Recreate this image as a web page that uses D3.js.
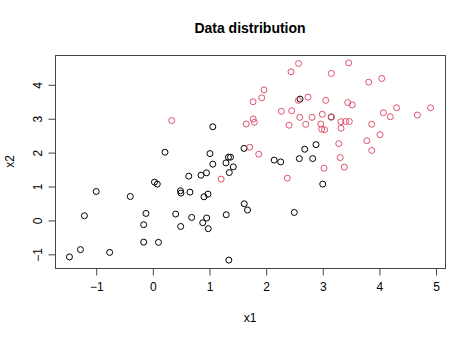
<!DOCTYPE html>
<html><head><meta charset="utf-8">
<script src="https://cdn.jsdelivr.net/npm/d3@7"></script>
<style>body{margin:0;background:#fff;} text{font-family:"Liberation Sans",Arial,sans-serif;}</style>
</head><body><svg id="c" width="474" height="338"></svg>
<script>
const group1X1 = [-1.473,-1.279,-1.208,-1.000,-0.763,-0.399,-0.162,-0.162,-0.122,0.028,0.078,0.099,0.214,0.403,0.487,0.496,0.491,0.634,0.655,0.685,0.850,0.880,0.902,0.947,0.950,0.973,0.978,1.008,1.058,1.058,1.291,1.295,1.341,1.349,1.335,1.371,1.420,1.609,1.613,1.671,2.142,2.257,2.497,2.586,2.598,2.681,2.822,2.881,2.999,3.149];
const group1X2 = [-1.076,-0.862,0.138,0.853,-0.944,0.706,-0.126,-0.641,0.206,1.129,1.071,-0.647,2.012,0.188,0.874,0.806,-0.179,1.306,0.835,0.088,1.335,-0.068,0.697,1.403,0.071,0.776,-0.244,1.971,2.762,1.659,1.697,0.168,-1.171,1.412,1.865,1.865,1.579,2.124,0.491,0.306,1.779,1.726,0.235,1.824,3.579,2.100,1.824,2.235,1.071,3.050];
const group2X1 = [0.332,1.206,1.648,1.710,1.768,1.771,1.791,1.869,1.922,1.962,2.268,2.374,2.404,2.439,2.451,2.572,2.568,2.593,2.699,2.739,2.810,2.964,2.981,2.992,3.031,3.022,3.052,3.151,3.151,3.282,3.308,3.319,3.322,3.380,3.402,3.440,3.458,3.469,3.520,3.778,3.811,3.864,3.864,4.011,4.041,4.069,4.193,4.302,4.670,4.903];
const group2X2 = [2.947,1.218,2.844,2.159,3.500,2.991,2.894,1.953,3.618,3.850,3.218,1.247,2.809,4.382,3.235,4.629,3.541,3.041,2.835,3.638,3.041,2.844,2.691,3.132,2.676,1.541,3.541,4.335,3.050,2.265,1.853,2.912,2.718,1.571,2.918,3.476,4.647,2.918,3.409,2.350,4.079,2.838,2.065,2.529,4.188,3.176,3.059,3.324,3.109,3.324];
const xTicks = [-1,0,1,2,3,4,5];
const yTicks = [-1,0,1,2,3,4];
const groupColors = ["#000000","#DF536B"];
const titleText = "Data distribution", xLabel = "x1", yLabel = "x2";

const svg = d3.select("#c");
const L=55, R=445, T=55, B=268;
const allX = group1X1.concat(group2X1), allY = group1X2.concat(group2X2);
function ext(a){const [mn,mx]=d3.extent(a);const p=(mx-mn)*0.04;return [mn-p,mx+p];}
const x = d3.scaleLinear().domain(ext(allX)).range([L,R]);
const y = d3.scaleLinear().domain(ext(allY)).range([B,T]);

svg.append("rect").attr("x",L+0.5).attr("y",T+0.5).attr("width",R-L).attr("height",B-T)
  .attr("fill","none").attr("stroke","#444").attr("stroke-width",1);

const xa = svg.append("g").attr("transform",`translate(0,${B+0.5})`)
  .call(d3.axisBottom(x).tickValues(xTicks).tickSize(7).tickPadding(7).tickFormat(d3.format("d")));
xa.select(".domain").attr("d",`M${x(xTicks[0])},0H${x(xTicks[xTicks.length-1])}`).attr("stroke","#444");
xa.selectAll(".tick line").attr("stroke","#444");
xa.selectAll("text").attr("font-size",12).attr("fill","#000");

const ya = svg.append("g").attr("transform",`translate(${L+0.5},0)`)
  .call(d3.axisLeft(y).tickValues(yTicks).tickSize(7).tickFormat(d3.format("d")));
ya.select(".domain").attr("d",`M0,${y(yTicks[0])}V${y(yTicks[yTicks.length-1])}`).attr("stroke","#444");
ya.selectAll(".tick line").attr("stroke","#444");
ya.selectAll(".tick text").attr("x",0).attr("dy",null).attr("text-anchor","middle")
  .attr("transform","translate(-18,0) rotate(-90)").attr("dominant-baseline","central")
  .attr("font-size",12).attr("fill","#000");

const g = svg.append("g");
[[group1X1,group1X2],[group2X1,group2X2]].forEach(([xs,ys],k)=>{
  g.selectAll(null).data(xs.map((v,i)=>[v,ys[i]])).enter().append("circle")
   .attr("cx",d=>x(d[0])).attr("cy",d=>y(d[1])).attr("r",3)
   .attr("fill","none").attr("stroke",groupColors[k]).attr("stroke-width",1);
});

svg.append("text").attr("x",(L+R)/2).attr("y",33).attr("text-anchor","middle")
  .attr("font-size",14).attr("font-weight","bold").text(titleText);
svg.append("text").attr("x",(L+R)/2).attr("y",322).attr("text-anchor","middle")
  .attr("font-size",12).text(xLabel);
svg.append("text").attr("transform",`translate(14,${(T+B)/2}) rotate(-90)`).attr("text-anchor","middle")
  .attr("font-size",12).text(yLabel);
</script></body></html>
